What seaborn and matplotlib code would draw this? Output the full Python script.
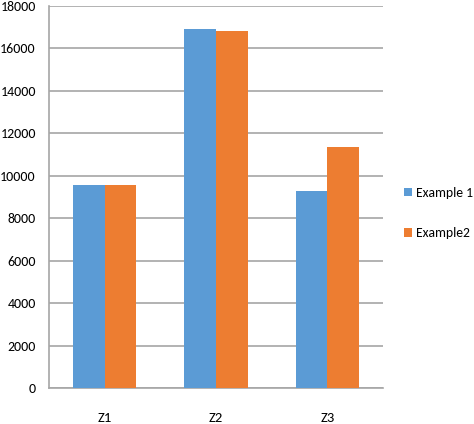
import matplotlib
matplotlib.use("Agg")
import matplotlib.pyplot as plt
import seaborn as sns
import pandas as pd
from matplotlib.patches import Patch

categories = ["Z1", "Z2", "Z3"]
example1 = [9560, 16900, 9280]
example2 = [9560, 16820, 11360]
series_names = ["Example 1", "Example2"]
colors = ["#5B9BD5", "#ED7D31"]
yticks = [0, 2000, 4000, 6000, 8000, 10000, 12000, 14000, 16000, 18000]

sns.set_style("white")
plt.rcParams['font.family'] = ['Carlito', 'DejaVu Sans']

df = pd.DataFrame({
    "cat": categories * 2,
    "val": example1 + example2,
    "series": [series_names[0]] * 3 + [series_names[1]] * 3,
})

fig = plt.figure(figsize=(4.74, 4.24), dpi=100)
ax = fig.add_axes([49/474, 1 - 388/424, (383-49)/474, (388-5.7)/424])

sns.barplot(data=df, x="cat", y="val", hue="series", palette=colors,
            width=0.566, saturation=1, ax=ax, legend=False, zorder=3,
            linewidth=0)

grid_c = "#A6A6A6"
ax.set_ylim(0, 18000)
ax.set_xlim(-0.5, 2.5)
ax.set_yticks(yticks)
ax.set_yticklabels([str(v) for v in yticks], fontsize=10, color="#000000")
ax.yaxis.grid(True, color=grid_c, linewidth=1.2, zorder=0)
ax.set_axisbelow(True)
ax.set_xlabel("")
ax.set_ylabel("")
for s in ["top", "right"]:
    ax.spines[s].set_visible(False)
for s in ["left", "bottom"]:
    ax.spines[s].set_color(grid_c)
    ax.spines[s].set_linewidth(1.2)
ax.set_xticks(range(len(categories)))
ax.set_xticklabels(categories, fontsize=10.5, color="#000000")
ax.set_xticks([-0.5, 0.5, 1.5, 2.5], minor=True)
ax.tick_params(axis="x", which="major", length=0, pad=17)
ax.tick_params(axis="x", which="minor", length=5, color=grid_c, width=1.2, direction="out")
ax.tick_params(axis="y", length=4, color=grid_c, width=1.2, direction="out", pad=5.5)

handles = [Patch(facecolor=c, edgecolor="none") for c in colors]
fig.legend(handles, series_names, loc="center left",
           bbox_to_anchor=(404/474, 1 - 213/424), frameon=False,
           fontsize=9.8, handlelength=0.6, handleheight=0.6,
           handletextpad=0.3, labelspacing=2.1, borderaxespad=0,
           borderpad=0, labelcolor="#000000")

fig.savefig("out.png", dpi=100)
